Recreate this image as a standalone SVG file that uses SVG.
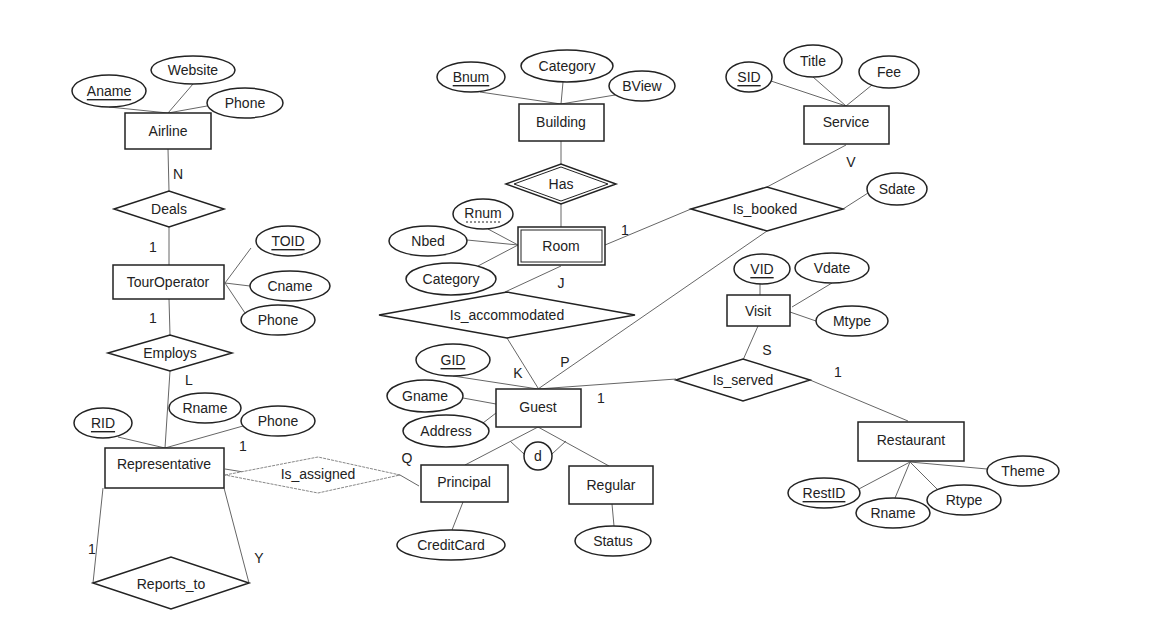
<svg xmlns="http://www.w3.org/2000/svg" width="1158" height="630" viewBox="0 0 1158 630">
<style>
text{font-family:"Liberation Sans",Arial,sans-serif;font-size:14px;fill:#222;text-anchor:middle;dominant-baseline:central}
.e{fill:#fff;stroke:#222;stroke-width:1.5}
.r{fill:#fff;stroke:#222;stroke-width:1.5}
.d{fill:#fff;stroke:#222;stroke-width:1.5}
.l{stroke:#666;stroke-width:1;fill:none}
.u{text-decoration:underline}
</style>
<rect width="1158" height="630" fill="#fff"/>
<g id="connectors">
<path class="l" d="M109,107 L168,113 M193,84 L168,113 M207,106 L168,113 M168,149 L169,191 M169,227 L169,265 M251,248 L225,283 M250,286 L225,283 M245,313 L225,283 M169,299 L170,335 M170,371 L165,448 M118,437 L165,448 M243,426 L165,448 M103,488 L93,583 M224,488 L249,583 M225,469 L262,475 M374,475 L400,475 L419,486"/>
<path class="l" d="M480,92 L561,104 M563,82 L561,104 M615,95 L561,104 M561,141 L561,164 M561,204 L561,227 M488,229 L518,245 M467,240 L518,245 M478,266 L518,245 M561,266 L505,292 M507,338 L538,388 M605,245 L691,209 M846,145 L767,187 M767,231 L538,389 M843,209 L868,193 M813,77 L846,106 M872,85 L846,106 M771,81 L846,106"/>
<path class="l" d="M760,284 L760,295 M832,283 L792,307 M816,321 L790,312 M758,326 L743,360 M453,376 L538,389 M463,398 L496,404 M483,423 L496,413 M538,389 L676,379 M810,380 L908,421 M838,500 L910,462 M895,498 L910,462 M937,489 L910,462 M987,469 L910,462 M463,502 L452,530 M612,504 L614,526 M538,427 L465,465 M538,427 L609,466 M510,441 L524,454 M566,441 L552,454"/>
<path d="M225,475 L318,457 L400,475 L318,493 Z" fill="#fff" stroke="#888" stroke-width="1" stroke-dasharray="3,1"/>
<text x="178" y="174">N</text><text x="153" y="247">1</text><text x="153" y="318">1</text><text x="189" y="380">L</text><text x="243" y="446">1</text><text x="407" y="458">Q</text><text x="92" y="549">1</text><text x="259" y="558">Y</text><text x="625" y="230">1</text><text x="561" y="283">J</text><text x="518" y="373">K</text><text x="565" y="362">P</text><text x="601" y="398">1</text><text x="851" y="162">V</text><text x="767" y="350">S</text><text x="838" y="372">1</text>
<text x="318" y="474">Is_assigned</text>
</g>
<g id="airline"><rect class="r" x="125" y="113" width="86" height="36"/><text x="168" y="131">Airline</text></g>
<g id="aname"><ellipse class="e" cx="109" cy="91" rx="37" ry="16"/><text class="u" x="109" y="91">Aname</text></g>
<g id="website"><ellipse class="e" cx="193" cy="70" rx="42" ry="14"/><text x="193" y="70">Website</text></g>
<g id="aphone"><ellipse class="e" cx="245" cy="103" rx="38" ry="15"/><text x="245" y="103">Phone</text></g>
<g id="deals"><path class="d" d="M114,209 L169,191 L224,209 L169,227 Z"/><text x="169" y="209">Deals</text></g>
<g id="touroperator"><rect class="r" x="113" y="265" width="111" height="34"/><text x="168" y="282">TourOperator</text></g>
<g id="toid"><ellipse class="e" cx="288" cy="241" rx="32" ry="15"/><text class="u" x="288" y="241">TOID</text></g>
<g id="cname"><ellipse class="e" cx="290" cy="286" rx="40" ry="15"/><text x="290" y="286">Cname</text></g>
<g id="tphone"><ellipse class="e" cx="278" cy="320" rx="37" ry="15"/><text x="278" y="320">Phone</text></g>
<g id="employs"><path class="d" d="M108,353 L170,335 L232,353 L170,371 Z"/><text x="170" y="353">Employs</text></g>
<g id="rname"><ellipse class="e" cx="205" cy="408" rx="36" ry="15"/><text x="205" y="408">Rname</text></g>
<g id="rid"><ellipse class="e" cx="103" cy="423" rx="29" ry="15"/><text class="u" x="103" y="423">RID</text></g>
<g id="rphone"><ellipse class="e" cx="278" cy="421" rx="37" ry="15"/><text x="278" y="421">Phone</text></g>
<g id="representative"><rect class="r" x="105" y="448" width="119" height="40"/><text x="164" y="464">Representative</text></g>
<g id="reports_to"><path class="d" d="M93,583 L171,557 L249,583 L171,609 Z"/><text x="171" y="584">Reports_to</text></g>
<g id="building"><rect class="r" x="519" y="104" width="85" height="37"/><text x="561" y="122">Building</text></g>
<g id="bnum"><ellipse class="e" cx="471" cy="77" rx="34" ry="15"/><text class="u" x="471" y="77">Bnum</text></g>
<g id="bcategory"><ellipse class="e" cx="567" cy="66" rx="46" ry="16"/><text x="567" y="66">Category</text></g>
<g id="bview"><ellipse class="e" cx="642" cy="86" rx="33" ry="15"/><text x="642" y="86">BView</text></g>
<g id="has"><path class="d" d="M506,184 L561,164 L616,184 L561,204 Z"/><path fill="none" stroke="#222" stroke-width="1" d="M514,184 L561,167 L608,184 L561,201 Z"/><text x="561" y="184">Has</text></g>
<g id="room"><rect class="r" x="518" y="227" width="87" height="38"/><rect fill="none" stroke="#222" x="521" y="230" width="81" height="32"/><text x="561" y="246">Room</text></g>
<g id="rnum"><ellipse class="e" cx="483" cy="214" rx="30" ry="15"/><text x="483" y="213">Rnum</text><line x1="466" y1="222" x2="500" y2="222" stroke="#222" stroke-dasharray="2,2"/></g>
<g id="nbed"><ellipse class="e" cx="428" cy="241" rx="39" ry="15"/><text x="428" y="241">Nbed</text></g>
<g id="rcategory"><ellipse class="e" cx="451" cy="279" rx="45" ry="16"/><text x="451" y="279">Category</text></g>
<g id="is_accommodated"><path class="d" d="M379,315 L507,292 L635,315 L507,338 Z"/><text x="507" y="315">Is_accommodated</text></g>
<g id="guest"><rect class="r" x="496" y="389" width="85" height="38"/><text x="538" y="407">Guest</text></g>
<g id="gid"><ellipse class="e" cx="453" cy="360" rx="37" ry="16"/><text class="u" x="453" y="360">GID</text></g>
<g id="gname"><ellipse class="e" cx="425" cy="396" rx="38" ry="16"/><text x="425" y="396">Gname</text></g>
<g id="address"><ellipse class="e" cx="446" cy="431" rx="43" ry="16"/><text x="446" y="431">Address</text></g>
<g id="d"><circle class="e" cx="538" cy="456" r="14"/><text x="538" y="456">d</text></g>
<g id="principal"><rect class="r" x="421" y="465" width="87" height="37"/><text x="464" y="482">Principal</text></g>
<g id="creditcard"><ellipse class="e" cx="451" cy="545" rx="54" ry="15"/><text x="451" y="545">CreditCard</text></g>
<g id="regular"><rect class="r" x="569" y="466" width="84" height="38"/><text x="611" y="485">Regular</text></g>
<g id="status"><ellipse class="e" cx="613" cy="541" rx="38" ry="15"/><text x="613" y="541">Status</text></g>
<g id="service"><rect class="r" x="804" y="106" width="85" height="38"/><text x="846" y="122">Service</text></g>
<g id="sid"><ellipse class="e" cx="749" cy="77" rx="23" ry="15"/><text class="u" x="749" y="77">SID</text></g>
<g id="title"><ellipse class="e" cx="813" cy="61" rx="29" ry="16"/><text x="813" y="61">Title</text></g>
<g id="fee"><ellipse class="e" cx="889" cy="72" rx="30" ry="16"/><text x="889" y="72">Fee</text></g>
<g id="is_booked"><path class="d" d="M691,209 L767,187 L843,209 L767,231 Z"/><text x="765" y="209">Is_booked</text></g>
<g id="sdate"><ellipse class="e" cx="897" cy="189" rx="30" ry="16"/><text x="897" y="189">Sdate</text></g>
<g id="visit"><rect class="r" x="727" y="295" width="63" height="31"/><text x="758" y="311">Visit</text></g>
<g id="vid"><ellipse class="e" cx="762" cy="269" rx="28" ry="15"/><text class="u" x="762" y="269">VID</text></g>
<g id="vdate"><ellipse class="e" cx="832" cy="268" rx="37" ry="15"/><text x="832" y="268">Vdate</text></g>
<g id="mtype"><ellipse class="e" cx="852" cy="321" rx="36" ry="15"/><text x="852" y="321">Mtype</text></g>
<g id="is_served"><path class="d" d="M676,380 L743,359 L810,380 L743,401 Z"/><text x="743" y="380">Is_served</text></g>
<g id="restaurant"><rect class="r" x="858" y="422" width="106" height="39"/><text x="911" y="440">Restaurant</text></g>
<g id="restid"><ellipse class="e" cx="824" cy="493" rx="36" ry="15"/><text class="u" x="824" y="493">RestID</text></g>
<g id="rname2"><ellipse class="e" cx="893" cy="513" rx="37" ry="15"/><text x="893" y="513">Rname</text></g>
<g id="rtype"><ellipse class="e" cx="964" cy="500" rx="37" ry="15"/><text x="964" y="500">Rtype</text></g>
<g id="theme"><ellipse class="e" cx="1023" cy="471" rx="36" ry="15"/><text x="1023" y="471">Theme</text></g>
</svg>
